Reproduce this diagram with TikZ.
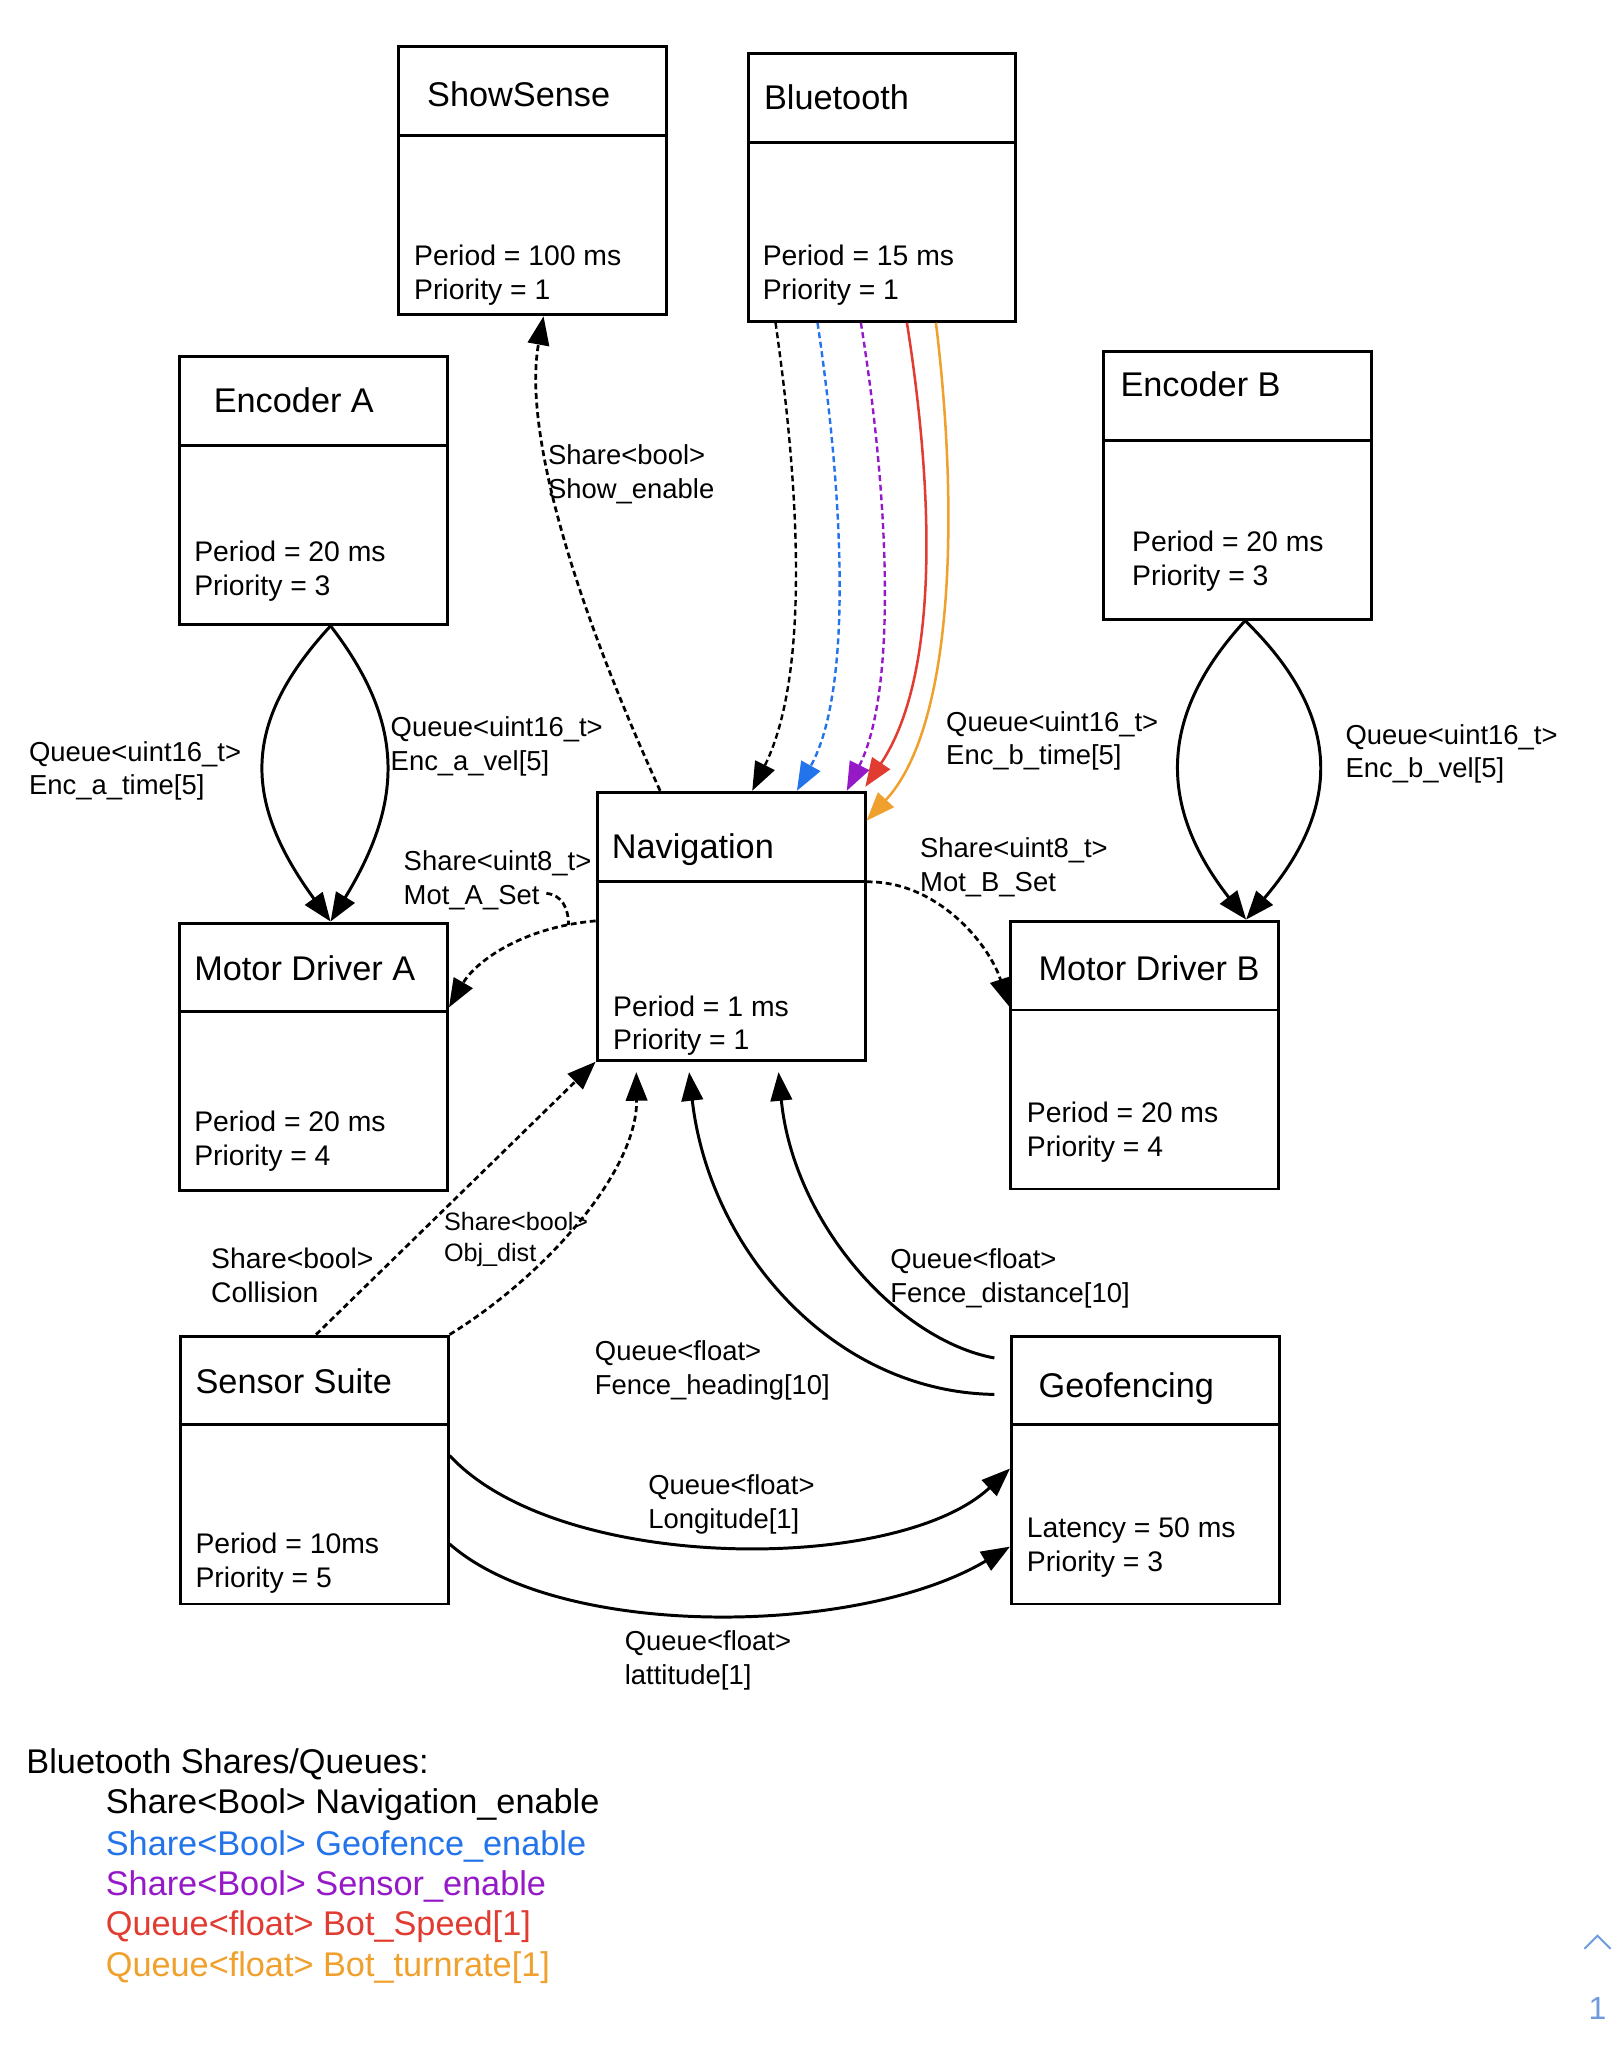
\documentclass[tikz,border=0pt]{standalone}
\usepackage{fontspec}
\setmainfont{Liberation Sans}
\usetikzlibrary{arrows.meta,calc}
\definecolor{cblue}{RGB}{35,115,235}
\definecolor{cpurple}{RGB}{150,25,200}
\definecolor{cred}{RGB}{225,60,50}
\definecolor{corange}{RGB}{240,160,45}
\definecolor{uiblue}{RGB}{110,155,220}
\tikzset{
 taskbox/.style={draw, line width=1.3pt, minimum width=4.12cm, minimum height=4.12cm, inner sep=0pt},
 titletxt/.style={anchor=base west, inner sep=0pt, font=\fontsize{15}{18}\selectfont},
 bodytxt/.style={anchor=base west, inner sep=0pt, font=\fontsize{12.4}{15}\selectfont},
 lbl/.style={anchor=base west, inner sep=0pt, font=\fontsize{12}{14}\selectfont},
 biglbl/.style={anchor=base west, inner sep=0pt, font=\fontsize{12.4}{15}\selectfont},
 smalllbl/.style={anchor=base west, inner sep=0pt, font=\fontsize{11}{13}\selectfont},
 legendtxt/.style={anchor=base west, inner sep=0pt, font=\fontsize{15}{18}\selectfont},
 headed/.style={-{Triangle[length=0.44cm,width=0.33cm]}},
 solidc/.style={headed, line width=1.3pt},
 thinsolid/.style={headed, line width=1.1pt},
 dashc/.style={headed, line width=1.2pt, dash pattern=on 2.6pt off 1.6pt},
 thindash/.style={headed, line width=1.05pt, dash pattern=on 2.6pt off 1.6pt},
 dashplain/.style={line width=1.2pt, dash pattern=on 2.6pt off 1.6pt},
}
\begin{document}
\begin{tikzpicture}[x=0.02cm,y=-0.02cm]
\fill[white] (0,0) rectangle (1240,1572);
\useasboundingbox (0,0) rectangle (1240,1572);

% ---------- boxes ----------
\node[taskbox] (show) at (409.5,139) {};
\node[taskbox] (bt) at (678,144) {};
\node[taskbox] (encA) at (241,377) {};
\node[taskbox] (encB) at (951.5,373) {};
\node[taskbox] (nav) at (562,712) {};
\node[taskbox] (motA) at (241,812.5) {};
\node[taskbox] (motB) at (880,811) {};
\node[taskbox] (sens) at (241.5,1130) {};
\node[taskbox] (geo) at (880.5,1130) {};
\foreach \n in {show,bt,encA,encB,nav,motA,motB,sens,geo}
  \draw[line width=1.3pt] ($(\n.north west)+(0,69.5)$) -- ($(\n.north east)+(0,69.5)$);

% ---------- titles ----------
\node[titletxt] (showT) at (328,82) {ShowSense};
\node[titletxt] (btT) at (587,84) {Bluetooth};
\node[titletxt] (encAT) at (164,317) {Encoder A};
\node[titletxt] (encBT) at (861,305) {Encoder B};
\node[titletxt] (navT) at (470,660) {Navigation};
\node[titletxt] (motAT) at (149,754) {Motor Driver A};
\node[titletxt] (motBT) at (798,754) {Motor Driver B};
\node[titletxt] (sensT) at (150,1071) {Sensor Suite};
\node[titletxt] (geoT) at (798,1074) {Geofencing};

% ---------- body texts ----------
\node[bodytxt] (showB1) at (318,204) {Period = 100 ms};
\node[bodytxt] (showB2) at (318,230) {Priority = 1};
\node[bodytxt] (btB1) at (586,204) {Period = 15 ms};
\node[bodytxt] (btB2) at (586,230) {Priority = 1};
\node[bodytxt] (encAB1) at (149,432) {Period = 20 ms};
\node[bodytxt] (encAB2) at (149,458) {Priority = 3};
\node[bodytxt] (encBB1) at (870,424) {Period = 20 ms};
\node[bodytxt] (encBB2) at (870,450) {Priority = 3};
\node[bodytxt] (navB1) at (471,781) {Period = 1 ms};
\node[bodytxt] (navB2) at (471,807) {Priority = 1};
\node[bodytxt] (motAB1) at (149,870) {Period = 20 ms};
\node[bodytxt] (motAB2) at (149,896) {Priority = 4};
\node[bodytxt] (motBB1) at (789,863) {Period = 20 ms};
\node[bodytxt] (motBB2) at (789,889) {Priority = 4};
\node[bodytxt] (sensB1) at (150,1194) {Period = 10ms};
\node[bodytxt] (sensB2) at (150,1220) {Priority = 5};
\node[bodytxt] (geoB1) at (789,1182) {Latency = 50 ms};
\node[bodytxt] (geoB2) at (789,1208) {Priority = 3};

% ---------- connectors ----------
% Navigation -> ShowSense
\draw[dashc] ($(nav.north west)!0.238!(nav.north east)$) .. controls (440,460) and (402,330) .. ($(show.south west)!0.54!(show.south east)$);

% Bluetooth -> Navigation
\draw[thindash] ($(bt.south west)!0.107!(bt.south east)$) .. controls (615,380) and (622,520) .. ($(nav.north west)!0.578!(nav.north east)$);
\draw[thindash, cblue] ($(bt.south west)!0.262!(bt.south east)$) .. controls (648,380) and (656,530) .. ($(nav.north west)!0.743!(nav.north east)$);
\draw[thindash, cpurple] ($(bt.south west)!0.422!(bt.south east)$) .. controls (683,380) and (690,530) .. ($(nav.north west)!0.927!(nav.north east)$);
\draw[thinsolid, cred] ($(bt.south west)!0.592!(bt.south east)$) .. controls (718,380) and (722,520) .. ($(nav.north east)+(-1,-3)$);
\draw[thinsolid, corange] ($(bt.south west)!0.699!(bt.south east)$) .. controls (738,400) and (732,560) .. ($(nav.north east)+(0,23)$);

% Encoder A -> Motor Driver A
\coordinate (encAo) at ($(encA.south west)!0.563!(encA.south east)$);
\coordinate (motAi) at ($(motA.north west)!0.563!(motA.north east)$);
\draw[solidc] (encAo) .. controls (186,555) and (186,615) .. (motAi);
\draw[solidc] (encAo) .. controls (311,555) and (311,615) .. (motAi);

% Encoder B -> Motor Driver B
\coordinate (encBo) at ($(encB.south west)!0.527!(encB.south east)$);
\coordinate (motBi) at ($(motB.north west)!0.874!(motB.north east)$);
\draw[solidc] (encBo) .. controls (890,550) and (890,620) .. (motBi);
\draw[solidc] (encBo) .. controls (1032,550) and (1032,620) .. (motBi);

% Navigation -> Motor Drivers
\draw[dashc] ($(nav.north west)+(0,100)$) .. controls (400,713) and (365,740) .. ($(motA.north east)+(0,66)$);
\draw[dashc] ($(nav.north east)+(0,70)$) .. controls (720,677) and (760,725) .. ($(motB.north west)+(0,67)$);

% Sensor Suite -> Navigation
\draw[dashc] ($(sens.north west)!0.507!(sens.north east)$) -- (nav.south west);
\draw[dashc] (sens.north east) .. controls (420,980) and (490,900) .. ($(nav.south west)!0.15!(nav.south east)+(0,8)$);

% Geofencing -> Navigation
\draw[solidc] ($(geo.north west)+(-12,46)$) .. controls (640,1070) and (545,960) .. ($(nav.south west)!0.345!(nav.south east)+(0,8)$);
\draw[solidc] ($(geo.north west)+(-12,18)$) .. controls (690,1030) and (610,940) .. ($(nav.south west)!0.675!(nav.south east)+(0,8)$);

% Sensor Suite -> Geofencing
\draw[solidc] ($(sens.north east)+(0,93)$) .. controls (430,1210) and (690,1210) .. ($(geo.north west)+(0,103)$);
\draw[solidc] ($(sens.north east)+(0,161)$) .. controls (430,1261) and (660,1258) .. ($(geo.north west)+(0,163)$);

% ---------- labels ----------
\node[lbl] (l1a) at (421,357) {Share<bool>};
\node[lbl] (l1b) at (421,383) {Show\_enable};
\node[lbl] (l2a) at (22,585) {Queue<uint16\_t>};
\node[lbl] (l2b) at (22,611) {Enc\_a\_time[5]};
\node[lbl] (l3a) at (300,566) {Queue<uint16\_t>};
\node[lbl] (l3b) at (300,592) {Enc\_a\_vel[5]};
\node[lbl] (l4a) at (727,562) {Queue<uint16\_t>};
\node[lbl] (l4b) at (727,588) {Enc\_b\_time[5]};
\node[lbl] (l5a) at (1034,572) {Queue<uint16\_t>};
\node[lbl] (l5b) at (1034,598) {Enc\_b\_vel[5]};
\node[lbl] (l6a) at (310,669) {Share<uint8\_t>};
\node[lbl] (l6b) at (310,695) {Mot\_A\_Set};
\node[lbl] (l7a) at (707,659) {Share<uint8\_t>};
\node[lbl] (l7b) at (707,685) {Mot\_B\_Set};
\node[biglbl] (l8a) at (162,975) {Share<bool>};
\node[biglbl] (l8b) at (162,1001) {Collision};
\node[smalllbl] (l9a) at (341,946) {Share<bool>};
\node[smalllbl] (l9b) at (341,970) {Obj\_dist};
\node[lbl] (l10a) at (457,1046) {Queue<float>};
\node[lbl] (l10b) at (457,1072) {Fence\_heading[10]};
\node[lbl] (l11a) at (684,975) {Queue<float>};
\node[lbl] (l11b) at (684,1001) {Fence\_distance[10]};
\node[lbl] (l12a) at (498,1149) {Queue<float>};
\node[lbl] (l12b) at (498,1175) {Longitude[1]};
\node[lbl] (l13a) at (480,1269) {Queue<float>};
\node[lbl] (l13b) at (480,1295) {lattitude[1]};

% leader from Mot_A_Set label
\coordinate (motAjoin) at (437,711);
\draw[dashplain] ($(l6b.east)+(5,-3)$) .. controls (432,688) and (437,698) .. (motAjoin);

% ---------- legend ----------
\node[legendtxt] (lg0) at (20,1363) {Bluetooth Shares/Queues:};
\node[legendtxt] (lg1) at (81,1394) {Share<Bool> Navigation\_enable};
\node[legendtxt, text=cblue] (lg2) at (81,1426) {Share<Bool> Geofence\_enable};
\node[legendtxt, text=cpurple] (lg3) at (81,1457) {Share<Bool> Sensor\_enable};
\node[legendtxt, text=cred] (lg4) at (81,1488) {Queue<float> Bot\_Speed[1]};
\node[legendtxt, text=corange] (lg5) at (81,1519) {Queue<float> Bot\_turnrate[1]};

% ---------- page indicator ----------
\draw[uiblue, line width=0.9pt] (1218,1498) -- (1228,1488) -- (1238,1498);
\node[anchor=base, inner sep=0pt, text=uiblue, font=\fontsize{14}{16}\selectfont] (pg) at (1228,1552) {1};
\end{tikzpicture}
\end{document}
